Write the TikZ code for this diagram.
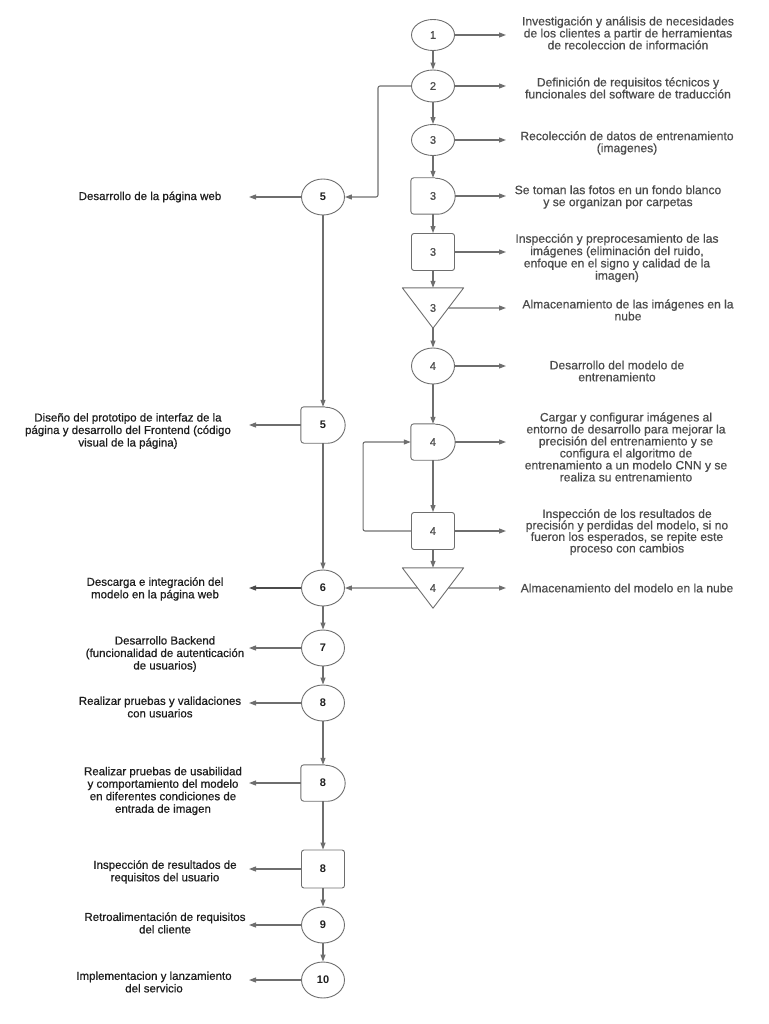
\documentclass[tikz,border=0pt]{standalone}
\usepackage{fontspec}
\setmainfont{Liberation Sans}
\newfontfamily\medsans{Liberation Sans}[FakeBold=0.7]
\usepackage{xcolor}
\usepackage{tikz}
\usetikzlibrary{arrows.meta}
\usetikzlibrary{positioning,calc,shapes.geometric}
\definecolor{linegray}{HTML}{6E6E6E}
\definecolor{textgray}{HTML}{4C4C4C}
\definecolor{textdark}{HTML}{1E1E1E}

\begin{document}
\begin{tikzpicture}[x=1pt, y=-1pt,
		flow/.style={draw=linegray, line width=1.1pt, -{Triangle[length=7pt,width=5pt]}},
		stepcircle/.style={draw=linegray, line width=0.9pt, ellipse, minimum width=43pt, minimum height=36pt, inner sep=0pt},
		stepbox/.style={draw=linegray, line width=0.9pt, rounded corners=2.5pt, minimum width=43pt, minimum height=37pt, inner sep=0pt},
		delaybox/.style={minimum width=44pt, minimum height=36pt, inner sep=0pt},
		storebox/.style={minimum width=61pt, minimum height=40pt, inner sep=0pt},
		rnum/.style={text=textgray, font=\medsans\fontsize{11}{12}\selectfont},
		lnum/.style={text=textdark, font=\fontsize{11}{12}\selectfont\bfseries},
		rtext/.style={text=textgray, align=center, inner sep=0pt, font=\medsans\fontsize{12.1}{12}\selectfont},
		ltext/.style={text=textdark, align=center, inner sep=0pt, font=\medsans\fontsize{11.5}{12.5}\selectfont}]
		
		\useasboundingbox (0,0) rectangle (768,1024);
		
		% right column
		\node[stepcircle,rnum,minimum height=31pt] (c1) at (433,35) {1};
		\node[stepcircle,rnum,minimum height=32pt] (c2) at (433,86) {2};
		\node[stepcircle,rnum,minimum height=31pt] (c3) at (433,140) {3};
		\node[delaybox,rnum] (d3) at (433,196) {3};
		\node[stepbox,rnum] (s3) at (433,252) {3};
		\node[storebox,rnum] (v3) at (433,308) {3};
		\node[stepcircle,rnum] (c4) at (433,366) {4};
		\node[delaybox,rnum] (d4) at (433,442) {4};
		\node[stepbox,rnum] (s4) at (433,531) {4};
		\node[storebox,rnum] (v4) at (433,588) {4};
		
		% left column
		\node[stepcircle,lnum] (c5) at (323,197) {5};
		\node[delaybox,lnum] (d5) at (323,425) {5};
		\node[stepcircle,lnum] (c6) at (323,588) {6};
		\node[stepcircle,lnum] (c7) at (323,648) {7};
		\node[stepcircle,lnum] (c8) at (323,703) {8};
		\node[delaybox,lnum] (d8) at (323,783) {8};
		\node[stepbox,lnum,minimum height=38pt] (s8) at (323,869) {8};
		\node[stepcircle,lnum] (c9) at (323,925) {9};
		\node[stepcircle,lnum] (c10) at (323,980) {10};
		
		% delay and storage outlines
		\foreach \n in {d3,d4,d5,d8}
		\draw[linegray, line width=0.9pt, rounded corners=3pt]
		([xshift=-20pt]\n.north east) -- (\n.north west) -- (\n.south west) -- ([xshift=-20pt]\n.south east)
		[sharp corners] arc[start angle=-90, end angle=90, x radius=20pt, y radius=18pt];
		\foreach \n in {v3,v4}
		\draw[linegray, line width=0.9pt, line join=round] (\n.north west) -- (\n.north east) -- (\n.south) -- cycle;
		
		% texts
		\node[rtext] (t1) at (628,33) {Investigación y análisis de necesidades\\de los clientes a partir de herramientas\\de recoleccion de información};
		\node[rtext] (t2) at (628,88) {Definición de requisitos técnicos y\\funcionales del software de traducción};
		\node[rtext] (t3) at (627,143) {Recolección de datos de entrenamiento\\(imagenes)};
		\node[rtext] (t4) at (618,197) {Se toman las fotos en un fondo blanco\\y se organizan por carpetas};
		\node[rtext,font=\medsans\fontsize{12.1}{11}\selectfont] (t5) at (617,258) {Inspección y preprocesamiento de las\\imágenes (eliminación del ruido,\\enfoque en el signo y calidad de la\\imagen)};
		\node[rtext] (t6) at (628,310) {Almacenamiento de las imágenes en la\\nube};
		\node[rtext] (t7) at (617,371) {Desarrollo del modelo de\\entrenamiento};
		\node[rtext] (t8) at (626,447) {Cargar y configurar imágenes al\\entorno de desarrollo para mejorar la\\precisión del entrenamiento y se\\configura el algoritmo de\\entrenamiento a un modelo CNN y se\\realiza su entrenamiento};
		\node[rtext,font=\medsans\fontsize{12.1}{11.5}\selectfont] (t9) at (627,532) {Inspección de los resultados de\\precisión y perdidas del modelo, si no\\fueron los esperados, se repite este\\proceso con cambios};
		\node[rtext] (t10) at (627,588) {Almacenamiento del modelo en la nube};
		
		\node[ltext] (l5) at (150,197) {Desarrollo de la página web};
		\node[ltext] (l5b) at (128,431) {Diseño del prototipo de interfaz de la\\página y desarrollo del Frontend (código\\visual de la página)};
		\node[ltext] (l6) at (155,589) {Descarga e integración del\\modelo en la página web};
		\node[ltext] (l7) at (165,654) {Desarrollo Backend\\(funcionalidad de autenticación\\de usuarios)};
		\node[ltext] (l8) at (160,707) {Realizar pruebas y validaciones\\con usuarios};
		\node[ltext] (l8b) at (163,791) {Realizar pruebas de usabilidad\\y comportamiento del modelo\\en diferentes condiciones de\\entrada de imagen};
		\node[ltext] (l8c) at (165,872) {Inspección de resultados de\\requisitos del usuario};
		\node[ltext] (l9) at (165,923) {Retroalimentación de requisitos\\del cliente};
		\node[ltext] (l10) at (154,982) {Implementacion y lanzamiento\\del servicio};
		
		% arrow ends
		\coordinate (tipR) at (506,0);
		\coordinate (tipL) at (249,0);
		
		% flow
		\foreach \a/\b in {c1/c2,c2/c3,c3/d3,d3/s3,s3/v3,v3/c4,c4/d4,d4/s4,s4/v4,
			c5/d5,d5/c6,c6/c7,c7/c8,c8/d8,d8/s8,s8/c9,c9/c10}
		\draw[flow] (\a) -- (\b);
		
		\foreach \n in {c1,c2,c3,d3,s3,c4,d4,s4}
		\draw[flow] (\n.east) -- (\n.east -| tipR);
		\foreach \n in {v3,v4}
		\draw[flow] ($(\n.north east)!.5!(\n.south)$) -- (\n -| tipR);
		\foreach \n in {c5,d5,c7,c8,d8,s8,c9,c10}
		\draw[flow] (\n.west) -- (\n.west -| tipL);
		\draw[flow, draw=textdark!80] (c6.west) -- (c6.west -| tipL);
		
		\draw[flow, rounded corners=2pt] (c2.west) -| ($(c2.west)!.5!(c5.east)$) |- (c5.east);
		\draw[flow, rounded corners=2pt] (s4.west) -- ++(-48,0) |- (d4.west);
		\draw[flow] ($(v4.north west)!.5!(v4.south)$) -- (c6.east);
		
	\end{tikzpicture}
\end{document}
